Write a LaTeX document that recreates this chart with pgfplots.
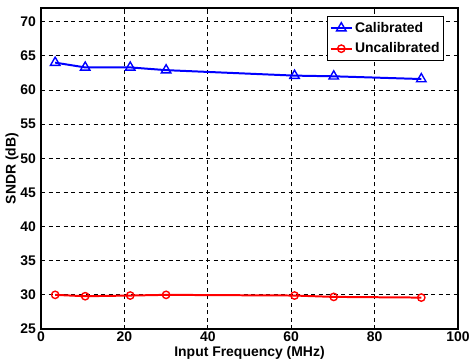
\documentclass[border=0pt]{standalone}
\usepackage{pgfplots}
\pgfplotsset{compat=1.18}
\usepackage{fontspec}
\setmainfont{Liberation Sans}
\begin{document}
\begin{tikzpicture}
\begin{axis}[
  at={(0,0)}, anchor=south west,
  scale only axis, width=417bp, height=321bp,
  xmin=0, xmax=100, ymin=25, ymax=72,
  xtick={0,20,40,60,80,100}, ytick={25,30,35,40,45,50,55,60,65,70},
  grid=major,
  major grid style={black, line width=0.9pt, dash pattern=on 4bp off 3.5bp},
  axis line style={black, line width=1.8pt},
  tick style={black, line width=0.9pt},
  tick align=inside,
  font=\fontsize{14}{16}\selectfont\bfseries,
  /pgf/number format/assume math mode=true,
  xticklabel style={inner sep=0pt, yshift=-3bp},
  yticklabel style={inner sep=1pt, xshift=-4bp},
  xlabel={Input Frequency (MHz)},
  ylabel={SNDR (dB)},
  xlabel style={at={(axis description cs:0.5,0)}, anchor=base, yshift=-27bp, inner sep=0pt},
  ylabel style={at={(axis description cs:0,0.5)}, anchor=center, yshift=29bp, inner sep=0pt},
  legend style={at={(0.966,0.975)}, anchor=north east, draw=black, line width=0.6pt,
     font=\fontsize{14}{16}\selectfont\bfseries, row sep=5pt, inner xsep=2pt, inner ysep=4pt},
  legend image code/.code={
     \draw[mark repeat=2,mark phase=2] plot coordinates {(0cm,0cm) (0.38cm,0cm) (0.76cm,0cm)};},
  legend cell align=left,
]
\addplot[blue, line width=2pt, mark=triangle, mark size=5.5pt, mark options={line width=1.4pt, fill=none}]
 coordinates {(3.4,64.0) (10.6,63.3) (21.4,63.3) (30.0,62.9) (60.8,62.1) (70.2,62.0) (91.2,61.6)};
\addlegendentry{Calibrated}
\addplot[red, line width=2pt, mark=o, mark size=3.7pt, mark options={line width=1.4pt}]
 coordinates {(3.4,30.0) (10.6,29.8) (21.4,29.9) (30.0,30.0) (60.8,29.9) (70.2,29.7) (91.2,29.6)};
\addlegendentry{Uncalibrated}
\end{axis}
\path[use as bounding box] (-41bp,-33bp) rectangle (433bp,329bp);
\end{tikzpicture}
\end{document}
